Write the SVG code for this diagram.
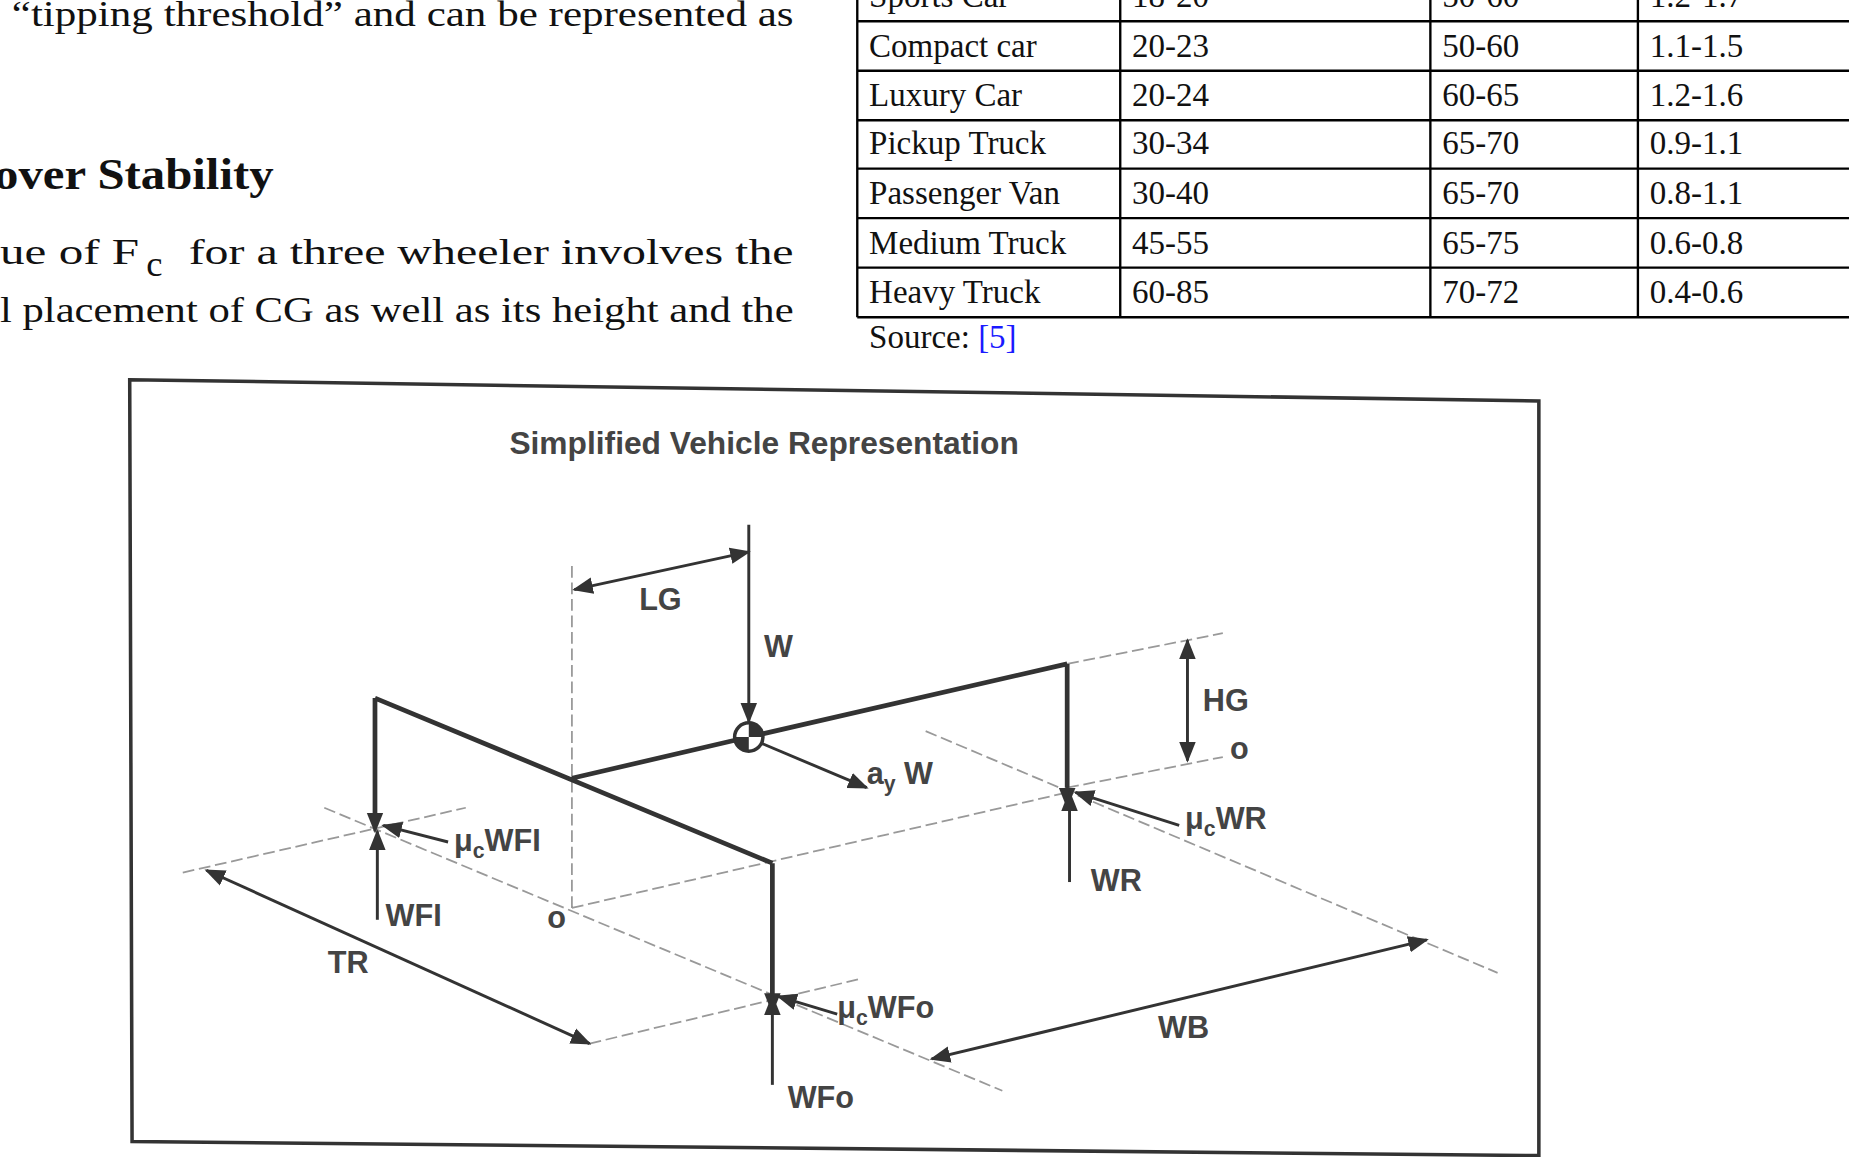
<svg xmlns="http://www.w3.org/2000/svg" width="1849" height="1157" viewBox="0 0 1849 1157">
<defs>
<style>
.t{font-family:"Liberation Serif","DejaVu Serif",serif;font-size:28px;fill:#111}
.b{font-family:"Liberation Serif","DejaVu Serif",serif;font-size:31px;fill:#111}
.h{font-family:"Liberation Serif",serif;font-size:38px;font-weight:bold;fill:#111}
.l{font-family:"Liberation Sans",Arial,sans-serif;font-size:26px;fill:#444;font-weight:bold}
.tl{stroke:#000;stroke-width:2;fill:none}
.th{stroke:#333;stroke-width:4;fill:none}
.tn{stroke:#999;stroke-width:1.5;fill:none;stroke-dasharray:10 4}
.ar{stroke:#333;stroke-width:2.5;fill:none;marker-end:url(#a)}
.dd{marker-start:url(#a)}
</style>
<marker id="a" viewBox="0 0 10 10" refX="9" refY="5" markerWidth="7" markerHeight="7" orient="auto-start-reverse"><path d="M0,1L10,5L0,9z" fill="#333"/></marker>
</defs>
<rect width="1849" height="1157" fill="#fff"/>
<g transform="scale(1.1792)">
<g id="text">
<text class="b" x="10" y="22" textLength="663" lengthAdjust="spacingAndGlyphs">“tipping threshold” and can be represented as</text>
<text class="h" x="-5" y="160" textLength="237" lengthAdjust="spacingAndGlyphs">over Stability</text>
<text class="b" x="0" y="224" textLength="118" lengthAdjust="spacingAndGlyphs">ue  of  F</text>
<text class="b" x="124" y="234" font-size="21">c</text>
<text class="b" x="160" y="224" textLength="513" lengthAdjust="spacingAndGlyphs">for  a  three  wheeler  involves  the</text>
<text class="b" x="0" y="273" textLength="673" lengthAdjust="spacingAndGlyphs">l placement of CG as well as its height and the</text>
</g>
<g id="table">
<path class="tl" d="M727,0V269M950,0V269M1213,0V269M1389,0V269M727,18H1568M727,60H1568M727,102H1568M727,143H1568M727,185H1568M727,227H1568M727,269H1568"/>
<text class="t" x="737" y="6">Sports Car</text><text class="t" x="960" y="6">18-20</text><text class="t" x="1223" y="6">50-60</text><text class="t" x="1399" y="6">1.2-1.7</text>
<text class="t" x="737" y="48">Compact car</text><text class="t" x="960" y="48">20-23</text><text class="t" x="1223" y="48">50-60</text><text class="t" x="1399" y="48">1.1-1.5</text>
<text class="t" x="737" y="90">Luxury Car</text><text class="t" x="960" y="90">20-24</text><text class="t" x="1223" y="90">60-65</text><text class="t" x="1399" y="90">1.2-1.6</text>
<text class="t" x="737" y="131">Pickup Truck</text><text class="t" x="960" y="131">30-34</text><text class="t" x="1223" y="131">65-70</text><text class="t" x="1399" y="131">0.9-1.1</text>
<text class="t" x="737" y="173">Passenger Van</text><text class="t" x="960" y="173">30-40</text><text class="t" x="1223" y="173">65-70</text><text class="t" x="1399" y="173">0.8-1.1</text>
<text class="t" x="737" y="215">Medium Truck</text><text class="t" x="960" y="215">45-55</text><text class="t" x="1223" y="215">65-75</text><text class="t" x="1399" y="215">0.6-0.8</text>
<text class="t" x="737" y="257">Heavy Truck</text><text class="t" x="960" y="257">60-85</text><text class="t" x="1223" y="257">70-72</text><text class="t" x="1399" y="257">0.4-0.6</text>
<text class="t" x="737" y="295">Source: <tspan fill="#1a1aff">[5]</tspan></text>
</g>
<g id="figure">
<path d="M110,322L1305,340L1305,980L112,968Z" fill="#fff" stroke="#333" stroke-width="3"/>
<text class="l" x="432" y="385" font-size="25" textLength="432" lengthAdjust="spacingAndGlyphs">Simplified Vehicle Representation</text>
</g>
<g id="connectors">
<path class="tn" d="M155,740L395,685M500,885L730,830M785,620L1270,825M275,685L850,925M905,563L1037,537M905,668L1037,642M485,480V770M485,770L905,672"/>
<path class="th" d="M318,592L655,732M485,660L635,625L905,563M318,592V690M655,732V845M905,563V668"/>
<path class="ar" d="M318,660V705"/>
<path class="ar" d="M655,800V858"/>
<path class="ar" d="M905,620V684"/>
<path class="ar" d="M635,445V612"/>
<path class="ar" d="M645,630L735,668"/>
<path class="ar" d="M320,780V705"/>
<path class="ar" d="M655,920V845"/>
<path class="ar" d="M907,748V672"/>
<path class="ar" d="M380,714L325,700"/>
<path class="ar" d="M1000,700L912,672"/>
<path class="ar" d="M710,860L660,845"/>
<path class="ar dd" d="M487,500L635,468"/>
<path class="ar dd" d="M175,738L500,885"/>
<path class="ar dd" d="M790,898L1210,797"/>
<path class="ar dd" d="M1007,543V645"/>
<circle cx="635" cy="625" r="12" fill="#fff" stroke="#333" stroke-width="3"/>
<path d="M635,613A12,12 0 0 1 647,625H635ZM635,637A12,12 0 0 1 623,625H635Z" fill="#333"/>
</g>
<g id="labels">
<text class="l" x="542" y="517">LG</text>
<text class="l" x="648" y="557">W</text>
<text class="l" x="1020" y="603">HG</text>
<text class="l" x="1043" y="644">o</text>
<text class="l" x="735" y="665">a<tspan font-size="18" dy="6">y</tspan><tspan dy="-6"> W</tspan></text>
<text class="l" x="1005" y="703">μ<tspan font-size="18" dy="6">c</tspan><tspan dy="-6">WR</tspan></text>
<text class="l" x="925" y="756">WR</text>
<text class="l" x="385" y="722">μ<tspan font-size="18" dy="6">c</tspan><tspan dy="-6">WFI</tspan></text>
<text class="l" x="327" y="785">WFI</text>
<text class="l" x="464" y="787">o</text>
<text class="l" x="278" y="825">TR</text>
<text class="l" x="710" y="863">μ<tspan font-size="18" dy="6">c</tspan><tspan dy="-6">WFo</tspan></text>
<text class="l" x="982" y="880">WB</text>
<text class="l" x="668" y="940">WFo</text>
</g>
</g>
</svg>
